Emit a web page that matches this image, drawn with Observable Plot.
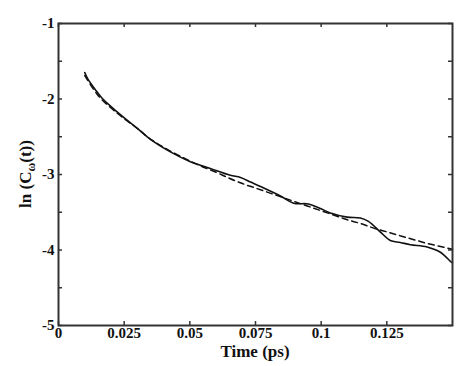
<!DOCTYPE html>
<html><head><meta charset="utf-8">
<script src="https://cdn.jsdelivr.net/npm/d3@7"></script>
<script src="https://cdn.jsdelivr.net/npm/@observablehq/plot@0.6"></script>
<style>body{margin:0;background:#fff}</style>
</head><body><div id="chart"></div>
<script>
// Simulated ln C_omega(t) (solid)
const timeSim = [0.0100,0.0111,0.0141,0.0166,0.020,0.0261,0.030,0.035,0.0426,0.0502,0.054,0.0578,0.0654,0.0693,0.0731,0.0769,0.0845,0.0895,0.0952,0.0997,0.1035,0.1099,0.1149,0.1180,0.1231,0.1263,0.1301,0.134,0.1403,0.1454,0.1492,0.1500];
const lnSim   = [-1.65,-1.73,-1.88,-1.99,-2.10,-2.28,-2.39,-2.535,-2.70,-2.83,-2.876,-2.92,-3.01,-3.04,-3.10,-3.16,-3.285,-3.38,-3.39,-3.45,-3.51,-3.565,-3.575,-3.62,-3.78,-3.875,-3.90,-3.93,-3.96,-4.03,-4.15,-4.17];
// Fit (dashed)
const timeFit = [0.010,0.015,0.020,0.025,0.030,0.035,0.040,0.045,0.050,0.055,0.060,0.065,0.070,0.075,0.080,0.085,0.090,0.095,0.100,0.105,0.110,0.115,0.120,0.125,0.130,0.135,0.140,0.145,0.150];
const lnFit   = [-1.69,-1.95,-2.12,-2.26,-2.39,-2.53,-2.64,-2.735,-2.82,-2.90,-2.97,-3.05,-3.12,-3.18,-3.24,-3.30,-3.36,-3.42,-3.48,-3.54,-3.60,-3.65,-3.71,-3.76,-3.81,-3.86,-3.91,-3.95,-3.99];

const xTicks = [0, 0.025, 0.05, 0.075, 0.1, 0.125];
const xTickLabels = ["0","0.025","0.05","0.075","0.1","0.125"];
const yTicks = [-1,-2,-3,-4,-5];
const yTickLabels = ["-1","-2","-3","-4","-5"];
const yMinorTicks = [-1.5,-2.5,-3.5,-4.5];

const sim = timeSim.map((t,i)=>({t, v: lnSim[i]}));
const fit = timeFit.map((t,i)=>({t, v: lnFit[i]}));
const xLab = new Map(xTicks.map((d,i)=>[d, xTickLabels[i]]));
const yLab = new Map(yTicks.map((d,i)=>[d, yTickLabels[i]]));
const yAll = yTicks.concat(yMinorTicks);

const W = 474, H = 366, mL = 58, mR = 22, mT = 23, mB = 41;
const fw = W - mL - mR, fh = H - mT - mB;
const axisColor = "#333";

const chart = Plot.plot({
  width: W, height: H,
  marginLeft: mL, marginRight: mR, marginTop: mT, marginBottom: mB,
  style: {fontFamily: "'Liberation Serif', 'Times New Roman', serif", fontWeight: "bold", fontSize: "15px", color: "#111", background: "#fff"},
  x: {domain: [0, 0.15]},
  y: {domain: [-5, -1]},
  marks: [
    Plot.axisX(xTicks, {tickSize: 0, tickPadding: 2, tickFormat: d => xLab.get(d), label: null}),
    Plot.axisY(yTicks, {tickSize: 0, tickPadding: 4, tickFormat: d => yLab.get(d), label: null}),
    Plot.tickX(xTicks, {x: d => d, insetTop: fh - 4, stroke: axisColor, strokeWidth: 1.5}),
    Plot.tickX(xTicks, {x: d => d, insetBottom: fh - 4, stroke: axisColor, strokeWidth: 1.5}),
    Plot.tickY(yAll, {y: d => d, insetRight: fw - 4, stroke: axisColor, strokeWidth: 1.5}),
    Plot.tickY(yAll, {y: d => d, insetLeft: fw - 4, stroke: axisColor, strokeWidth: 1.5}),
    Plot.line(fit, {x: "t", y: "v", stroke: "#111", strokeWidth: 1.5, strokeDasharray: "6,4", curve: "catmull-rom"}),
    Plot.line(sim, {x: "t", y: "v", stroke: "#111", strokeWidth: 1.6, curve: "catmull-rom"}),
    Plot.frame({stroke: axisColor, strokeWidth: 2})
  ]
});

const svg = d3.select(chart);
svg.append("text")
  .attr("x", mL + fw / 2).attr("y", 357)
  .attr("text-anchor", "middle")
  .attr("font-size", 17).attr("font-weight", "bold").attr("fill", "#111")
  .text("Time (ps)");
const yl = svg.append("text")
  .attr("transform", `translate(31,${mT + fh / 2}) rotate(-90)`)
  .attr("text-anchor", "middle")
  .attr("font-size", 17).attr("font-weight", "bold").attr("fill", "#111");
yl.append("tspan").text("ln (C");
yl.append("tspan").attr("dy", 4).attr("font-size", 12).text("ω");
yl.append("tspan").attr("dy", -4).text("(t))");

document.getElementById("chart").appendChild(chart);
</script>
</body></html>
